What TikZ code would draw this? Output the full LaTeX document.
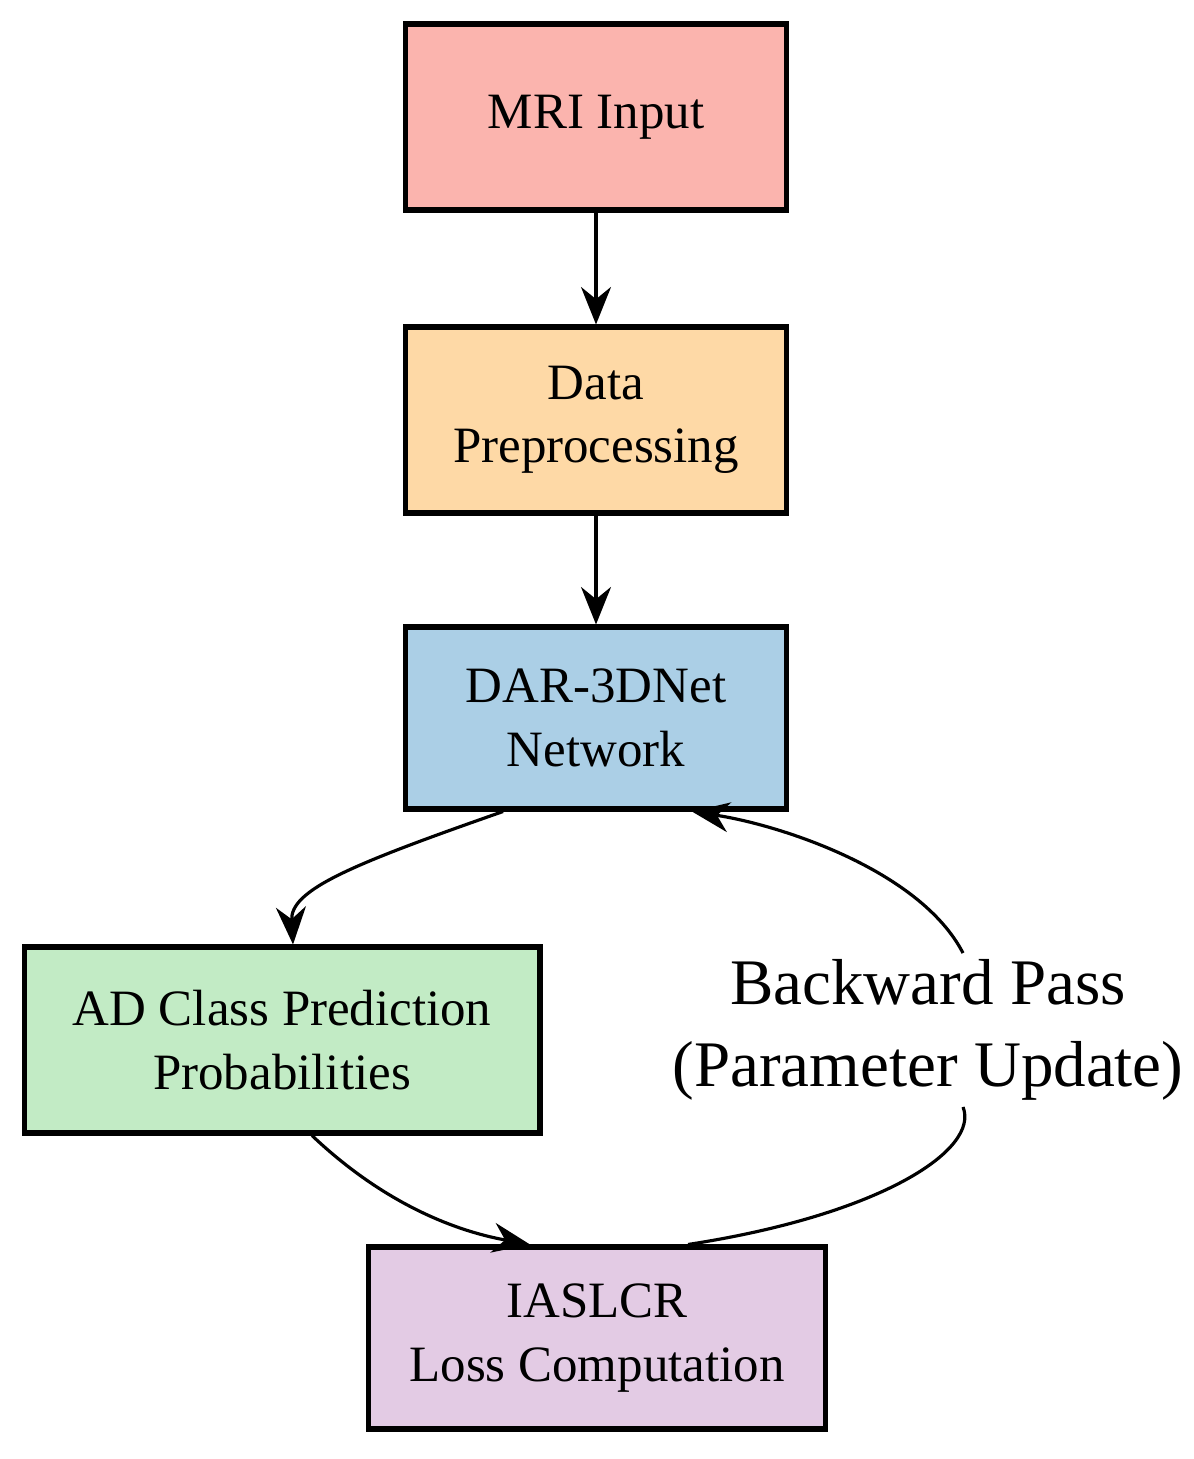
\documentclass[tikz,border=0pt]{standalone}
\usepackage{fontspec}
\setmainfont{Liberation Serif}
\usetikzlibrary{arrows.meta}
\definecolor{cmri}{HTML}{FBB4AE}
\definecolor{cdata}{HTML}{FED9A6}
\definecolor{cdar}{HTML}{ABCFE6}
\definecolor{cad}{HTML}{C2EBC5}
\definecolor{cias}{HTML}{E3CBE4}
\begin{document}
\begin{tikzpicture}[x=0.02cm,y=-0.02cm,
  box/.style={draw=black,line width=2.9pt,inner sep=0pt,align=center,
    font=\fontsize{29}{36}\selectfont,minimum height=3.72cm},
  arr/.style={line width=1.8pt,-{Stealth[length=0.75cm,width=0.6cm]}}]
\useasboundingbox (0,0) rectangle (1193,1459);
\node[box,fill=cmri,minimum width=7.62cm] (mri) at (596,117) {MRI Input};
\node[box,fill=cdata,minimum width=7.62cm] (pre) at (596,420) {Data\\Preprocessing};
\node[box,fill=cdar,minimum width=7.62cm,minimum height=3.64cm] (dar) at (596,718) {DAR-3DNet\\Network};
\node[box,fill=cad,minimum width=10.32cm] (ad) at (282,1040) {AD Class Prediction\\Probabilities};
\node[box,fill=cias,minimum width=9.14cm,minimum height=3.64cm] (ias) at (597,1338) {IASLCR\\Loss Computation};
\node[align=center,font=\fontsize{37}{47}\selectfont] (lbl) at (928,1030) {Backward Pass\\(Parameter Update)};
\draw[arr] (mri) -- (pre);
\draw[arr] (pre) -- (dar);
\draw[arr] ([xshift=-1.86cm]dar.south) .. controls (350,865) and (290,890) .. ([xshift=0.22cm]ad.north);
\draw[arr] ([xshift=0.6cm]ad.south) .. controls (380,1200) and (450,1230) .. ([xshift=-1.34cm]ias.north);
\draw[line width=1.8pt] ([xshift=1.82cm]ias.north) .. controls (880,1215) and (980,1150) .. (lbl.south east -| 963,0);
\draw[arr] (lbl.north east -| 963,0) .. controls (920,870) and (780,825) .. ([xshift=1.92cm]dar.south);
\end{tikzpicture}
\end{document}
